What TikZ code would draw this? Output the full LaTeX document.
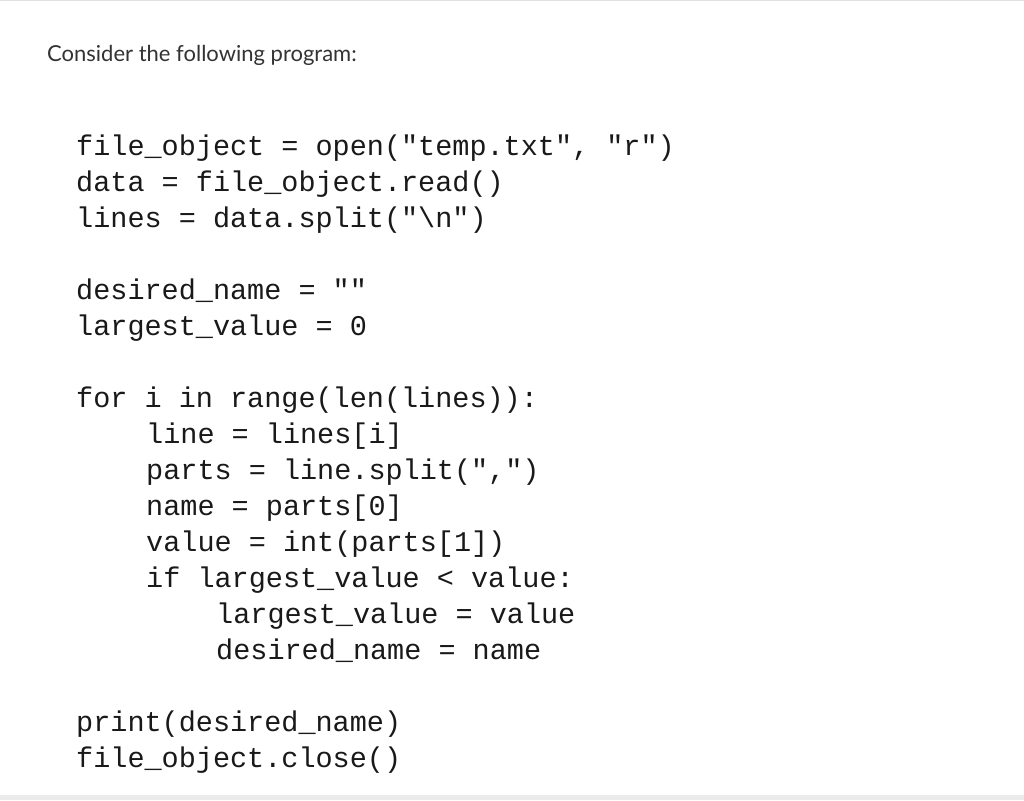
\documentclass[tikz,border=0pt]{standalone}
\usepackage{fontspec}
\setmainfont{Lato}
\newfontfamily\codefont{Liberation Mono}
\begin{document}
\begin{tikzpicture}[x=1pt,y=-1pt,
  code/.style={anchor=base west,inner sep=0pt,font=\codefont\fontsize{28.5}{30}\selectfont,text=black!90},
  head/.style={anchor=base west,inner sep=0pt,font=\fontsize{22}{26}\selectfont,text=black!80}]
\useasboundingbox (0,0) rectangle (1024,800);
\fill[white] (0,0) rectangle (1024,800);
\draw[black!12,line width=1.5pt] (0,0.75) -- (1024,0.75);
\fill[black!8] (0,795) rectangle (1024,800);
\node[head] (h) at (47,62) {Consider the following program:};
\node[code] (l1) at (76,155) {file\_object = open("temp.txt", "r")};
\node[code] (l2) at (76,191) {data = file\_object.read()};
\node[code] (l3) at (76,227) {lines = data.split("\textbackslash n")};
\node[code] (l4) at (76,299) {desired\_name = ""};
\node[code] (l5) at (76,335) {largest\_value = 0};
\node[code] (l6) at (76,407) {for i in range(len(lines)):};
\node[code] (l7) at (146,443) {line = lines[i]};
\node[code] (l8) at (146,479) {parts = line.split(",")};
\node[code] (l9) at (146,515) {name = parts[0]};
\node[code] (l10) at (146,551) {value = int(parts[1])};
\node[code] (l11) at (146,587) {if largest\_value < value:};
\node[code] (l12) at (216,623) {largest\_value = value};
\node[code] (l13) at (216,659) {desired\_name = name};
\node[code] (l14) at (76,731) {print(desired\_name)};
\node[code] (l15) at (76,767) {file\_object.close()};
\end{tikzpicture}
\end{document}
